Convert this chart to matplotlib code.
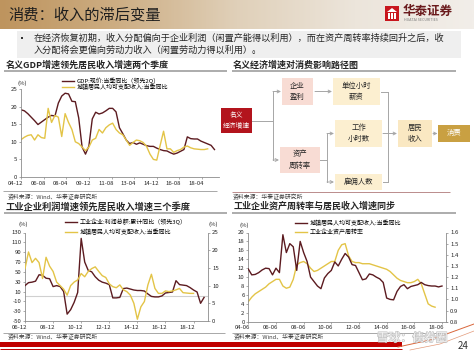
import numpy as np
import matplotlib
matplotlib.use('Agg')
import matplotlib.pyplot as plt
import matplotlib.transforms as mtrans
from matplotlib.patches import Rectangle, Polygon
from matplotlib.colors import LinearSegmentedColormap
from matplotlib.legend import Legend
import matplotlib.patheffects as pe

plt.rcParams['font.family'] = ['Noto Sans CJK SC', 'DejaVu Sans']
plt.rcParams['axes.unicode_minus'] = False

# ---------------- data ----------------
# top-left: quarterly, starting 2004-12 (x axis in months)
tl_gdp_lead2q = [19.1, 18.8, 18.0, 17.0, 16.0, 14.9, 15.6, 16.3, 17.0, 17.5,
                 17.3, 21.0, 23.0, 23.8, 23.6, 21.5, 21.4, 16.8, 8.5, 6.5,
                 8.8, 16.5, 18.4, 17.9, 18.2, 18.8, 19.5, 19.5, 18.5, 14.0,
                 12.3, 10.5, 9.5, 9.8, 9.3, 9.7, 9.3, 8.9, 8.7, 8.7,
                 8.2, 7.8, 7.5, 7.4, 6.9, 6.5, 6.8, 7.3, 7.8, 11.4,
                 10.9, 10.8, 10.8, 10.2, 9.8, 9.4, 9.0, 7.8]
tl_income = [10.6, 11.3, 11.8, 12.0, 10.5, 12.0, 11.2, 11.0, 19.5, 15.5,
             17.5, 17.0, 11.5, 18.0, 15.5, 13.5, 10.0, 9.5, 8.5, 7.5,
             8.5, 10.5, 11.0, 13.5, 12.5, 14.0, 14.8, 15.3, 13.5, 12.5,
             12.0, 10.5, 9.0, 9.8, 10.5, 10.3, 9.8, 8.7, 6.5, 5.0,
             4.8, 9.0, 13.0, 8.0, 8.0, 7.0, 7.5, 7.8, 8.5, 8.8,
             8.3, 8.0, 7.9, 7.8, 7.8, 8.0]
tl_xlabels = ['04-12', '06-08', '08-04', '09-12', '11-08', '13-04', '14-12', '16-08', '18-04']

# bottom-left: quarterly, starting 2006-12
bl_profit_lead3q = [22, 28, 29, 31, 44, 43, 37, 36, 20, 22,
                    20, 10, -36, -27, -12, 8, 118, 70, 53, 50,
                    40, 33, 29, 27, 24, -3, -3, -2, 16, 17,
                    15, 13, 12, 12, 11, 5, 0, -1, -1, 1,
                    7, 8, 9, 32, 24, 23, 22, 18, 13, 9,
                    -14, -2]
bl_income = [14.8, 19.5, 16.5, 17.7, 16.5, 12.0, 18.0, 15.5, 14.0, 11.0,
             10.0, 9.0, 7.3, 10.0, 11.0, 11.6, 13.4, 12.5, 14.0, 14.8,
             15.3, 14.0, 12.8, 12.3, 10.5, 9.7, 9.4, 10.2, 8.8, 8.3,
             7.3, 5.0, 0.5, 4.0, 5.5, 10.2, 13.2, 9.2, 7.8, 7.8,
             8.5, 8.3, 8.5, 8.8, 9.2, 8.0, 7.9, 7.8, 7.8]
bl_xlabels = ['06-12', '08-12', '10-12', '12-12', '14-12', '16-12', '18-12']

# bottom-right: quarterly, starting 2004-06
br_income = [11.8, 10.5, 10.6, 11.0, 11.6, 12.0, 11.9, 10.5, 12.0, 11.0,
             19.5, 15.5, 17.5, 16.8, 11.5, 18.0, 15.5, 13.5, 10.0, 9.0,
             8.0, 7.4, 9.8, 10.8, 11.5, 13.4, 12.5, 14.0, 15.3, 14.5,
             12.8, 12.6, 11.0, 9.4, 9.6, 10.7, 10.5, 10.0, 9.6, 8.8,
             5.3, 5.0, 4.9, 6.8, 7.9, 8.3, 7.4, 7.9, 8.1, 8.3,
             8.8, 8.3, 8.1, 8.0, 8.0, 7.8, 8.0]
br_turnover = [0.98, 1.02, 1.05, 1.07, 1.09, 1.11, 1.14, 1.16, 1.18, 1.18,
               1.12, 1.10, 1.11, 1.18, 1.31, 1.33, 1.34, 1.32, 1.28, 1.25,
               1.26, 1.28, 1.30, 1.32, 1.34, 1.34, 1.44, 1.49, 1.50, 1.39,
               1.34, 1.33, 1.33, 1.32, 1.32, 1.32, 1.31, 1.30, 1.29, 1.28,
               1.27, 1.25, 1.22, 1.19, 1.17, 1.16, 1.15, 1.15, 1.16, 1.18,
               1.14, 1.05, 0.96, 0.94, 0.93]
br_xlabels = ['04-06', '06-06', '08-06', '10-06', '12-06', '14-06', '16-06', '18-06']

# ---------------- style ----------------
MAROON = '#5C1B20'
YELLOW = '#E3C447'
GRAY = '#8C8C8C'
TXT = '#262626'
FS = 4.3
W, H = 474, 355

fig = plt.figure(figsize=(W / 100, H / 100), dpi=100)
fig.patch.set_facecolor('white')

bg = fig.add_axes([0, 0, 1, 1], zorder=0)
grad = np.linspace(0, 1, 300).reshape(1, -1)
cmap = LinearSegmentedColormap.from_list(
    'banner', ['#BE945E', '#CDAE84', '#E0D0B9', '#ECE5DB', '#F2EEE9'])
bg.imshow(grad, extent=(0, W, 29, 0), aspect='auto', cmap=cmap, zorder=0)
bg.set_xlim(0, W)
bg.set_ylim(H, 0)
bg.axis('off')


def T(x, y, s, fs=FS, **kw):
    kw.setdefault('va', 'center')
    kw.setdefault('color', TXT)
    return bg.text(x, y, s, fontsize=fs, **kw)


def hline(x0, x1, y, color, lw):
    bg.plot([x0, x1], [y, y], color=color, lw=lw, solid_capstyle='butt')


def box(x0, y0, x1, y1, fc, text, tc=TXT, fs=5.3):
    bg.add_patch(Rectangle((x0, y0), x1 - x0, y1 - y0, facecolor=fc,
                           edgecolor='none', zorder=2))
    bg.text((x0 + x1) / 2, (y0 + y1) / 2, text, fontsize=fs, color=tc,
            ha='center', va='center', linespacing=1.5, zorder=3)


def arrow(x0, y0, x1, y1):
    bg.annotate('', xy=(x1, y1), xytext=(x0, y0),
                arrowprops=dict(arrowstyle='->', color='#A6A6A6', lw=0.7,
                                shrinkA=0, shrinkB=0, mutation_scale=5))


def seg(xs, ys):
    bg.plot(xs, ys, color='#A6A6A6', lw=0.7)


# ---- banner ----
T(8, 15, '消费：收入的滞后变量', fs=11, color='#1E1E1E')
bg.add_patch(Rectangle((385, 6), 14, 15, facecolor='#C8161D', edgecolor='none'))
bg.add_patch(Polygon([[387, 12], [392, 8], [397, 12]], closed=True,
                     facecolor='white', edgecolor='none'))
for xx in (388.5, 391.5, 394.5):
    bg.add_patch(Rectangle((xx, 13), 1.3, 6, facecolor='white', edgecolor='none'))
T(403, 11.5, '华泰证券', fs=9, color='#6A1A1C', fontweight='bold')
T(404, 19.8, 'HUATAI SECURITIES', fs=2.6, color='#7A7A7A')

# ---- bullet ----
bg.add_patch(Rectangle((17, 31), 444, 27, facecolor='#EFEFEF', edgecolor='none'))
bg.add_patch(Rectangle((21, 36.5), 2.4, 2.4, facecolor='#333333', edgecolor='none'))
T(34, 38, '在经济恢复初期，收入分配偏向于企业利润（闲置产能得以利用），而在资产周转率持续回升之后，收',
  fs=6.6)
T(34, 50, '入分配将会更偏向劳动力收入（闲置劳动力得以利用）。', fs=6.6)

# ---- section headers ----
T(6, 65.5, '名义GDP增速领先居民收入增速两个季度', fs=6.5, fontweight='bold')
T(233, 65.5, '名义经济增速对消费影响路径图', fs=6.5, fontweight='bold')
hline(4, 227, 71, '#A6A6A6', 1.3)
hline(232, 456, 71, '#A6A6A6', 1.3)
T(6, 206.5, '工业企业利润增速领先居民收入增速三个季度', fs=6.7, fontweight='bold')
T(234, 206.5, '工业企业资产周转率与居民收入增速同步', fs=6.5, fontweight='bold')
hline(4, 227, 213.3, '#A6A6A6', 1.3)
hline(232, 456, 213.3, '#A6A6A6', 1.3)

# ---- sources ----
hline(3, 217, 191, '#9A9A9A', 0.6)
T(8, 196.5, '资料来源：Wind、华泰证券研究所', fs=4.2, color='#404040', style='italic')
hline(232, 450, 191.5, '#B07A7A', 0.6)
T(233, 196.5, '资料来源：华泰证券研究所', fs=4.2, color='#404040', style='italic')
hline(3, 225, 333, '#9A9A9A', 0.6)
T(8, 337, '资料来源：Wind、华泰证券研究所', fs=4.2, color='#404040', style='italic')
hline(232, 440, 333, '#9A9A9A', 0.6)
T(234, 337, '资料来源：Wind、华泰证券研究所', fs=4.2, color='#404040', style='italic')

# ---- footer ----
bg.add_patch(Rectangle((0, 342), 402, 4.5, facecolor='#C00000', edgecolor='none'))
hline(0, 402, 348.8, '#C00000', 0.7)
bg.plot([398, 430, 474], [347, 340, 324], color='#D9663A', lw=0.7)
bg.plot([410, 440, 474], [350, 344, 331], color='#E39A7A', lw=0.5)
wm = T(412, 338, '雪球：债券圈', fs=8.5, color='white', ha='center', alpha=0.85)
wm.set_path_effects([pe.withStroke(linewidth=0.9, foreground='#B8B8B8')])
T(463, 346, '24', fs=7, color='#333333', ha='center')

# ---- flowchart ----
RED = '#B3141D'
PINK = '#F8DCD4'
LY = '#FCEFD0'
BEIGE = '#FAE8C2'
GOLD = '#C9A042'
box(221, 108, 252, 133, RED, '名义\n经济增速', tc='white', fs=4.9)
box(282, 78, 313, 105, PINK, '企业\n盈利')
box(333, 78, 380, 105, LY, '单位小时\n薪资')
box(335, 120, 382, 147, LY, '工作\n小时数')
box(280, 147, 320, 173, PINK, '资产\n周转率')
box(335, 174, 382, 190, LY, '雇佣人数')
box(398, 120, 432, 147, BEIGE, '居民\n收入')
box(438, 125, 470, 142, GOLD, '消费', tc='white')
seg([252, 273], [120.5, 120.5])
seg([273, 273], [91.5, 160])
arrow(273, 91.5, 281, 91.5)
arrow(273, 160, 279, 160)
arrow(315, 91.5, 332, 91.5)
seg([320, 327], [160, 160])
seg([327, 327], [133.5, 182])
arrow(327, 133.5, 334, 133.5)
arrow(327, 182, 334, 182)
seg([381, 388], [91.5, 91.5])
seg([383, 388], [182, 182])
seg([388, 388], [91.5, 182])
arrow(383, 133.5, 397, 133.5)
arrow(433, 133.5, 437.5, 133.5)


# ---------------- charts ----------------
def px_axes(x0, y0, x1, y1):
    return fig.add_axes([x0 / W, 1 - y1 / H, (x1 - x0) / W, (y1 - y0) / H], zorder=2)


def style(ax, left=True, right=False, bottom=True):
    ax.patch.set_alpha(0)
    ax.spines['top'].set_visible(False)
    ax.spines['left'].set_visible(left)
    ax.spines['right'].set_visible(right)
    ax.spines['bottom'].set_visible(bottom)
    for s in ax.spines.values():
        s.set_color(GRAY)
        s.set_linewidth(0.6)
    ax.tick_params(labelsize=FS, length=1.5, width=0.5, pad=1.2,
                   color=GRAY, labelcolor=TXT)


def right_align_xlabels(ax, dx=2):
    off = mtrans.ScaledTranslation(dx / 100, 0, fig.dpi_scale_trans)
    for t in ax.get_xticklabels():
        t.set_ha('right')
        t.set_transform(t.get_transform() + off)


def legend(ax, line, label, x, y):
    lg = Legend(ax, [line], [label], loc='center left',
                bbox_to_anchor=(x / W, 1 - y / H), bbox_transform=fig.transFigure,
                frameon=False, fontsize=FS, handlelength=2.0, handletextpad=0.4,
                borderpad=0, borderaxespad=0)
    ax.add_artist(lg)


# top-left
ax1 = px_axes(21, 89, 219, 177)
m_gdp = np.arange(len(tl_gdp_lead2q)) * 3
m_inc = np.arange(len(tl_income)) * 3
l1, = ax1.plot(m_gdp, tl_gdp_lead2q, color=MAROON, lw=1.0)
l2, = ax1.plot(m_inc, tl_income, color=YELLOW, lw=1.0)
ax1.set_xlim(0, 175)
ax1.set_ylim(0, 25)
ax1.set_yticks(np.arange(0, 26, 5))
ax1.set_xticks(np.arange(len(tl_xlabels)) * 20, tl_xlabels)
style(ax1)
right_align_xlabels(ax1)
legend(ax1, l1, 'GDP:现价:当季同比（领先2Q）', 62, 80.7)
legend(ax1, l2, '城镇居民人均可支配收入:当季同比', 62, 87.2)
T(18, 83, '(%)', fs=FS)

# bottom-left
ax3 = px_axes(25, 232.5, 208.3, 321)
ax3.axhline(0, color='#D0D0D0', lw=0.8, zorder=1)
l3, = ax3.plot(np.arange(len(bl_profit_lead3q)), bl_profit_lead3q, color=MAROON, lw=1.0, zorder=3)
ax3.set_xlim(0, 52.2)
ax3.set_ylim(-50, 130)
ax3.set_yticks(np.arange(-50, 131, 20))
ax3.set_xticks(np.arange(len(bl_xlabels)) * 8, bl_xlabels)
style(ax3)
right_align_xlabels(ax3)
ax3r = ax3.twinx()
l4, = ax3r.plot(np.arange(len(bl_income)), bl_income, color=YELLOW, lw=1.0)
ax3r.set_ylim(0, 25)
ax3r.set_yticks(np.arange(0, 26, 5))
style(ax3r, left=False, right=True, bottom=False)
ax3r.set_xlim(0, 52.2)
legend(ax3, l3, '工业企业:利润总额:累计同比（领先3Q）', 65, 221.7)
legend(ax3, l4, '城镇居民人均可支配收入:当季同比', 65, 231.5)
T(19, 224.5, '(%)', fs=FS)
T(209, 224.5, '(%)', fs=FS)

# bottom-right
ax4 = px_axes(248.3, 232.5, 446.5, 321.7)
l5, = ax4.plot(np.arange(len(br_income)), br_income, color=MAROON, lw=1.0, zorder=3)
ax4.set_xlim(0, 57.3)
ax4.set_ylim(0, 20)
ax4.set_yticks(np.arange(0, 21, 2))
ax4.set_xticks(np.arange(len(br_xlabels)) * 8, br_xlabels)
style(ax4)
right_align_xlabels(ax4)
ax4r = ax4.twinx()
l6, = ax4r.plot(np.arange(len(br_turnover)), br_turnover, color=YELLOW, lw=1.0)
ax4r.set_ylim(0.8, 1.6)
ax4r.set_yticks(np.round(np.arange(0.8, 1.61, 0.1), 1))
ax4r.set_yticklabels([f'{v:.1f}' for v in np.arange(0.8, 1.61, 0.1)])
style(ax4r, left=False, right=True, bottom=False)
ax4r.set_xlim(0, 57.3)
ax4.set_zorder(3)
legend(ax4, l5, '城镇居民人均可支配收入:当季同比', 295, 223.3)
legend(ax4, l6, '工业企业资产周转率', 295, 231.7)
T(240, 225, '(%)', fs=FS)

fig.savefig('out.png', dpi=100, facecolor='white')
